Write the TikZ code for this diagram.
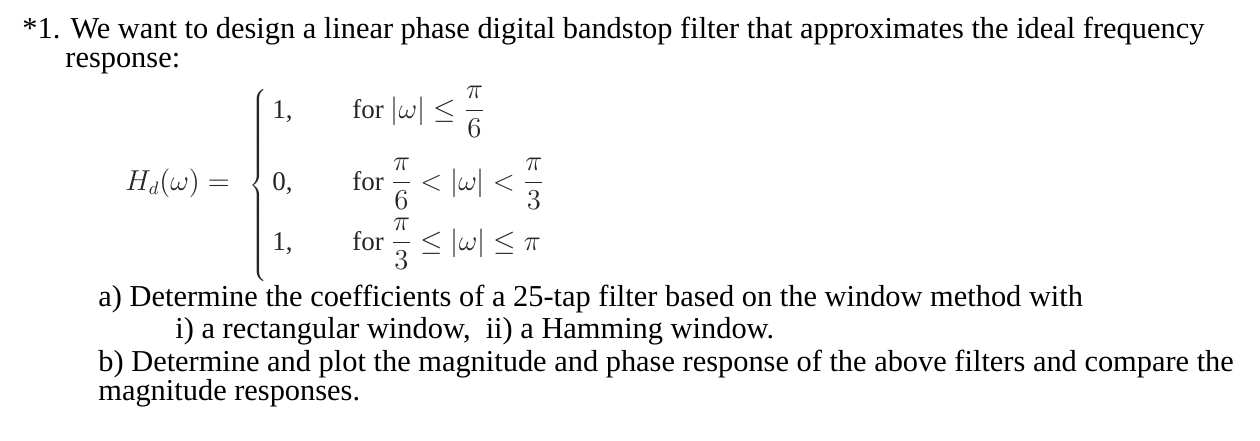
\documentclass[tikz,border=0pt]{standalone}
\usepackage{amsmath}
\usepackage{fontspec}
\setmainfont{Liberation Serif}
\begin{document}
\begin{tikzpicture}[x=0.5pt,y=-0.5pt,
  txt/.style={anchor=base west,inner sep=0pt,font=\fontsize{15.2pt}{17pt}\selectfont},
  eq/.style={anchor=base west,inner sep=0pt,text=black!85,font=\fontsize{13.5pt}{15pt}\selectfont}]
\useasboundingbox (0,0) rectangle (1260,440);
\node[txt] (l1) at (22,38) {*1. We want to design a linear phase digital bandstop filter that approximates the ideal frequency};
\node[txt] (l2) at (65,67) {response:};
\node[eq] (hd) at (125,190) {$H_{d}(\omega)=$};
\node[inner sep=0pt,text=black!85] (br) at (260,186) {$\left\{\rule[-46pt]{0pt}{92pt}\right.$};
\node[eq] (r1a) at (272,118) {1,};
\node[eq] (r1b) at (352,118) {for $|\omega|\le\dfrac{\pi}{6}$};
\node[eq] (r2a) at (272,190) {0,};
\node[eq] (r2b) at (352,190) {for $\dfrac{\pi}{6}<|\omega|<\dfrac{\pi}{3}$};
\node[eq] (r3a) at (272,250) {1,};
\node[eq] (r3b) at (352,250) {for $\dfrac{\pi}{3}\le|\omega|\le\pi$};
\node[txt] (a) at (98,306) {a) Determine the coefficients of a 25-tap filter based on the window method with};
\node[txt] (ai) at (175,338) {i) a rectangular window,\ \ ii) a Hamming window.};
\node[txt] (b) at (98,371) {b) Determine and plot the magnitude and phase response of the above filters and compare the};
\node[txt] (b2) at (98,400) {magnitude responses.};
\end{tikzpicture}
\end{document}
